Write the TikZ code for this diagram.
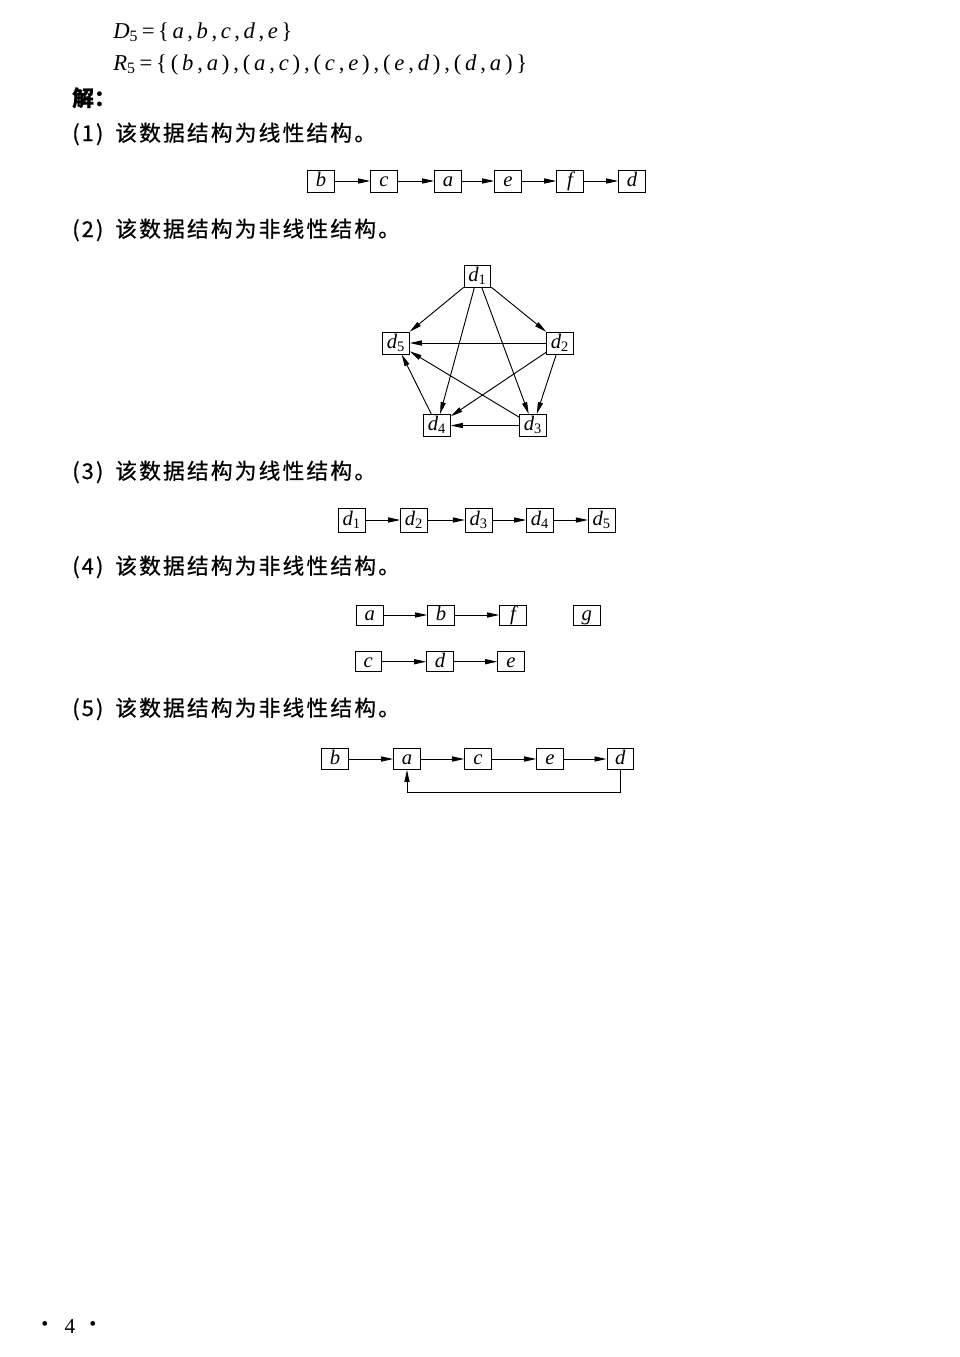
\documentclass[tikz,border=0pt]{standalone}
\usepackage{fontspec}
\setmainfont{Liberation Serif}
\newfontfamily\cjk[FakeBold=0.6]{Noto Sans CJK SC}
\newfontfamily\cjkt[LetterSpace=10,FakeBold=0.6]{Noto Sans CJK SC}
\usetikzlibrary{arrows.meta}
\begin{document}
\begin{tikzpicture}[x=0.75pt,y=-0.75pt,
  txt/.style={inner sep=0pt, anchor=base west, font=\fontsize{16.3pt}{20pt}\cjkt},
  mth/.style={inner sep=0pt, anchor=base west, font=\fontsize{17pt}{20pt}\selectfont},
  box/.style={draw, line width=0.7pt, minimum width=20pt, minimum height=16.5pt, inner sep=0pt,
     text height=10.8pt, text depth=2.8pt,
     font=\fontsize{15.5pt}{17pt}\selectfont\itshape},
  arr/.style={-{Triangle[length=9pt,width=3.8pt]}, line width=0.7pt}]
\useasboundingbox (0,0) rectangle (960,1357);
\fill[white] (0,0) rectangle (960,1357);
% header text
\node[mth] (ld) at (113,38) {\makebox[134.25pt][s]{\textit{D}\textsubscript{5}\hfil=\hfil\{\hfil\textit{a}\hfil,\hfil\textit{b}\hfil,\hfil\textit{c}\hfil,\hfil\textit{d}\hfil,\hfil\textit{e}\hfil\}}};
\node[mth] (lr) at (113,70) {\makebox[310.5pt][s]{\textit{R}\textsubscript{5}\hfil=\hfil\{\hfil(\hfil\textit{b}\hfil,\hfil\textit{a}\hfil)\hfil,\hfil(\hfil\textit{a}\hfil,\hfil\textit{c}\hfil)\hfil,\hfil(\hfil\textit{c}\hfil,\hfil\textit{e}\hfil)\hfil,\hfil(\hfil\textit{e}\hfil,\hfil\textit{d}\hfil)\hfil,\hfil(\hfil\textit{d}\hfil,\hfil\textit{a}\hfil)\hfil\}}};
\node[txt, font=\fontsize{16.3pt}{20pt}\cjk\bfseries] (jie) at (72,106) {解：};
\node[txt] (n1) at (72,141) {(1)};
\node[txt] (t1) at (115,141) {该数据结构为线性结构。};
\node[txt] (n2) at (72,237) {(2)};
\node[txt] (t2) at (115,237) {该数据结构为非线性结构。};
\node[txt] (n3) at (72,479) {(3)};
\node[txt] (t3) at (115,479) {该数据结构为线性结构。};
\node[txt] (n4) at (72,574) {(4)};
\node[txt] (t4) at (115,574) {该数据结构为非线性结构。};
\node[txt] (n5) at (72,716) {(5)};
\node[txt] (t5) at (115,716) {该数据结构为非线性结构。};
% (1)
\node[box] (ab) at (321,181) {b};
\node[box] (ac) at (384,181) {c};
\node[box] (aa) at (448,181) {a};
\node[box] (ae) at (508,181) {e};
\node[box] (af) at (570,181) {f};
\node[box] (ad) at (632,181) {d};
\draw[arr] (ab) -- (ac);
\draw[arr] (ac) -- (aa);
\draw[arr] (aa) -- (ae);
\draw[arr] (ae) -- (af);
\draw[arr] (af) -- (ad);
% (2)
\node[box] (p1) at (477.5,276) {d\textsubscript{\upshape 1}};
\node[box] (p2) at (560,343) {d\textsubscript{\upshape 2}};
\node[box] (p5) at (396,343) {d\textsubscript{\upshape 5}};
\node[box] (p4) at (437,425.5) {d\textsubscript{\upshape 4}};
\node[box] (p3) at (533,425.5) {d\textsubscript{\upshape 3}};
\draw[arr] (p1) -- (p5);
\draw[arr] (p1) -- (p2);
\draw[arr] (p1) -- (p4);
\draw[arr] (p1) -- (p3);
\draw[arr] (p2) -- (p5);
\draw[arr] (p2) -- (p4);
\draw[arr] (p2) -- (p3);
\draw[arr] (p3) -- (p5);
\draw[arr] (p3) -- (p4);
\draw[arr] (p4) -- (p5);
% (3)
\node[box, minimum height=18pt] (q1) at (351.7,520) {d\textsubscript{\upshape 1}};
\node[box, minimum height=18pt] (q2) at (414,520) {d\textsubscript{\upshape 2}};
\node[box, minimum height=18pt] (q3) at (478.7,520) {d\textsubscript{\upshape 3}};
\node[box, minimum height=18pt] (q4) at (540,520) {d\textsubscript{\upshape 4}};
\node[box, minimum height=18pt] (q5) at (601.7,520) {d\textsubscript{\upshape 5}};
\draw[arr] (q1) -- (q2);
\draw[arr] (q2) -- (q3);
\draw[arr] (q3) -- (q4);
\draw[arr] (q4) -- (q5);
% (4)
\node[box, minimum height=15pt] (ra) at (369.7,615) {a};
\node[box, minimum height=15pt] (rb) at (441,615) {b};
\node[box, minimum height=15pt] (rf) at (513,615) {f};
\node[box, minimum height=15pt] (rg) at (586.7,615) {g};
\node[box, minimum height=15pt] (rc) at (368.3,661.7) {c};
\node[box, minimum height=15pt] (rd) at (440,661.7) {d};
\node[box, minimum height=15pt] (re) at (511,661.7) {e};
\draw[arr] (ra) -- (rb);
\draw[arr] (rb) -- (rf);
\draw[arr] (rc) -- (rd);
\draw[arr] (rd) -- (re);
% (5)
\node[box, minimum height=15.75pt] (sb) at (335,759) {b};
\node[box, minimum height=15.75pt] (sa) at (407,759) {a};
\node[box, minimum height=15.75pt] (sc) at (478,759) {c};
\node[box, minimum height=15.75pt] (se) at (550,759) {e};
\node[box, minimum height=15.75pt] (sd) at (620.3,759) {d};
\draw[arr] (sb) -- (sa);
\draw[arr] (sa) -- (sc);
\draw[arr] (sc) -- (se);
\draw[arr] (se) -- (sd);
\draw[arr] (sd.south) -- ++(0,22.5) -| (sa.south);
% page number
\node[inner sep=0pt, font=\fontsize{15pt}{15pt}\selectfont] (pb1) at (45,1326) {•};
\node[inner sep=0pt, anchor=base, font=\fontsize{16pt}{16pt}\selectfont] (pg) at (70,1333) {4};
\node[inner sep=0pt, font=\fontsize{15pt}{15pt}\selectfont] (pb2) at (93,1326) {•};
\end{tikzpicture}
\end{document}
